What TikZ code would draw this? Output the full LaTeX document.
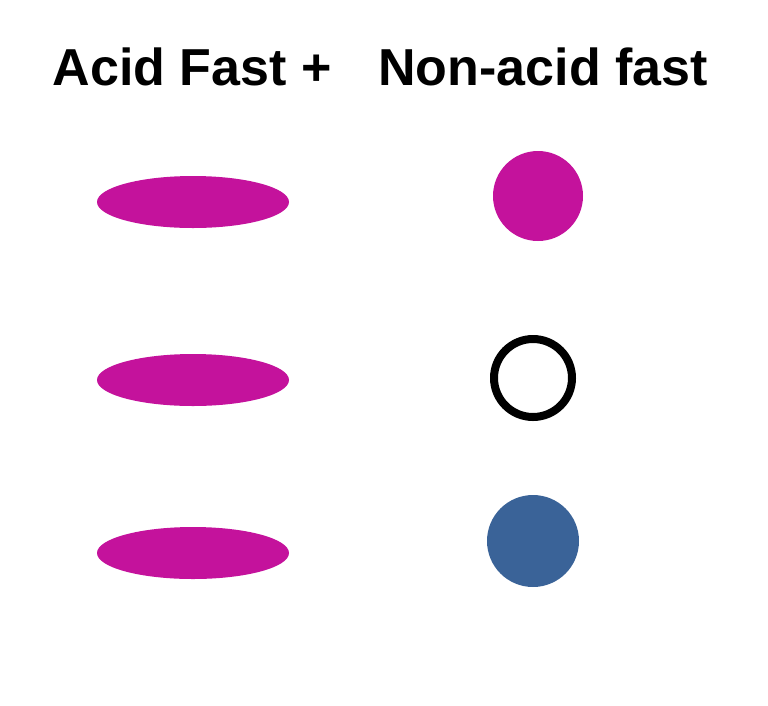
\documentclass[tikz,border=0pt]{standalone}
\usepackage{fontspec}
\setmainfont{Liberation Sans}
\usetikzlibrary{shapes.geometric, positioning}

\definecolor{stainpink}{RGB}{196,18,156}
\definecolor{stainblue}{RGB}{58,99,152}

\begin{document}
\begin{tikzpicture}
  [
    x = 1pt, y = -1pt,
    heading/.style = {font=\fontsize{52}{60}\selectfont\bfseries, inner sep=0pt, anchor=base},
    rod/.style     = {ellipse, fill=stainpink, inner sep=0pt,
                      minimum width=192pt, minimum height=52pt},
    coccus/.style  = {circle, inner sep=0pt, minimum size=#1}
  ]
  \useasboundingbox (0,0) rectangle (768,705);

  % column headings
  \node[heading] (acid)    at (192,85) {Acid Fast +};
  \node[heading] (nonacid) at (543,85) {Non-acid fast};

  % acid fast rods
  \node[rod] (rod1) at (193,202) {};
  \node[rod] (rod2) at (193,380) {};
  \node[rod] (rod3) at (193,553) {};

  % non-acid fast cocci
  \node[coccus=90pt, fill=stainpink] (cocA) at (538,196) {};
  \node[coccus=78pt, draw=black, line width=8pt] (cocB) at (533,378) {};
  \node[coccus=92pt, fill=stainblue] (cocC) at (533,541) {};
\end{tikzpicture}
\end{document}
